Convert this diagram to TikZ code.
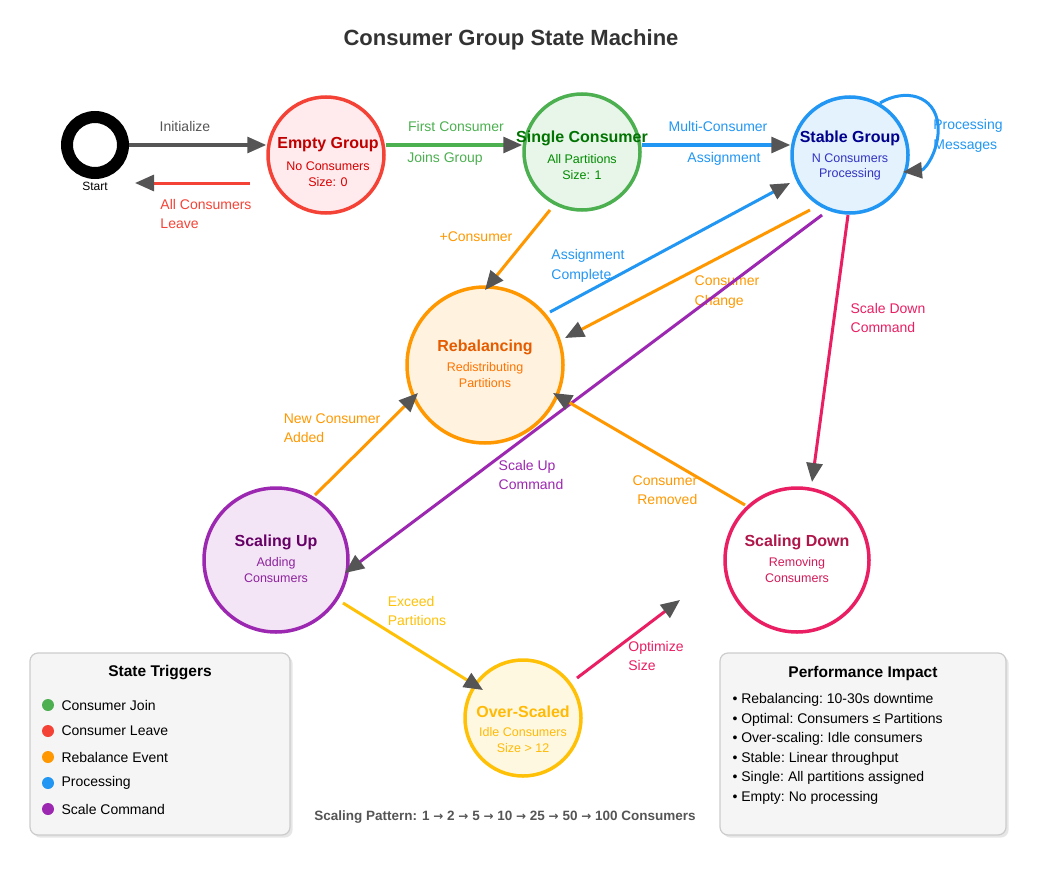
\documentclass[tikz,border=0pt]{standalone}
\usepackage{fontspec}
\setmainfont{Liberation Sans}
\newfontfamily\arrfont{DejaVu Sans}
\usetikzlibrary{arrows.meta,shadows}
\definecolor{cred}{HTML}{F44336}\definecolor{cgreen}{HTML}{4CAF50}\definecolor{cblue}{HTML}{2196F3}
\definecolor{corange}{HTML}{FF9800}\definecolor{cpurple}{HTML}{9C27B0}\definecolor{cpink}{HTML}{E91E63}
\definecolor{camber}{HTML}{FFC107}\definecolor{agray}{HTML}{555555}
\definecolor{fred}{HTML}{FFEBEE}\definecolor{fgreen}{HTML}{E8F5E9}\definecolor{fblue}{HTML}{E3F2FD}
\definecolor{forange}{HTML}{FFF3E0}\definecolor{fpurple}{HTML}{F3E5F5}\definecolor{famber}{HTML}{FFF8E1}
\newcommand{\ra}{{\arrfont\fontsize{12}{14}\selectfont →}}
\begin{document}
\begin{tikzpicture}[x=1pt,y=-1pt,
  st/.style={circle,line width=3.5pt,minimum size=#1,inner sep=0pt,align=center},
  ed/.style={line width=3pt,-{Triangle[length=19pt,width=16pt,color=agray]}},
  lb/.style={font=\fontsize{14}{19.5}\selectfont,align=left},
  tt/.style={font=\fontsize{16}{19}\selectfont\bfseries},
  sb/.style={font=\fontsize{12.5}{15.5}\selectfont}]
\useasboundingbox (0,0) rectangle (1049,872);
\node[font=\fontsize{22}{26}\selectfont\bfseries,text=black!80] (title) at (511,40) {Consumer Group State Machine};
% states
\node[circle,draw=black,line width=12pt,minimum size=56pt] (start) at (95,145) {};
\node[font=\fontsize{12}{14}\selectfont] (startl) at (95,186) {Start};
\node[st=116pt,draw=cred,fill=fred] (empty) at (326,155) {};
\node[tt,text=red!75!black] at (328,145) {Empty Group};
\node[sb,text=red!85!black,align=center] at (328,174) {No Consumers\\Size: 0};
\node[st=116pt,draw=cgreen,fill=fgreen] (single) at (582,152) {};
\node[tt,text=green!45!black] at (582,138) {Single Consumer};
\node[sb,text=green!55!black,align=center] at (582,167) {All Partitions\\Size: 1};
\node[st=116pt,draw=cblue,fill=fblue] (stable) at (850,155) {};
\node[tt,text=blue!55!black] at (850,138) {Stable Group};
\node[sb,text=blue!70!black!80,align=center] at (850,167) {N Consumers\\Processing};
\node[st=156pt,draw=corange,fill=forange] (rebal) at (485,365) {};
\node[tt,text=orange!80!red!90!black] at (485,347) {Rebalancing};
\node[sb,text=orange!90!red,align=center] at (485,375) {Redistributing\\Partitions};
\node[st=144pt,draw=cpurple,fill=fpurple] (up) at (276,560) {};
\node[tt,text=violet!80!black] at (276,542) {Scaling Up};
\node[sb,text=cpurple!90!black,align=center] at (276,570) {Adding\\Consumers};
\node[st=144pt,draw=cpink,fill=white] (down) at (797,560) {};
\node[tt,text=cpink!75!black] at (797,542) {Scaling Down};
\node[sb,text=cpink!90!black,align=center] at (797,570) {Removing\\Consumers};
\node[st=116pt,draw=camber,fill=famber] (over) at (523,718) {};
\node[tt,text=camber!90!orange] at (523,712) {Over-Scaled};
\node[sb,text=camber!90!orange,align=center] at (523,740) {Idle Consumers\\Size > 12};
% edges
\draw[ed,agray] (start.east) -- (empty.west|-start.east);
\node[lb,text=agray] at (185,126) {Initialize};
\coordinate (e1) at (250,183); \coordinate (e2) at (135,183);
\draw[ed,cred] (e1) -- (e2);
\node[lb,text=cred] at (206,214) {All Consumers\\Leave};
\draw[ed,cgreen] (empty.east|-0,145) -- (single.west|-0,145);
\node[lb,text=cgreen] at (456,126) {First Consumer};
\node[lb,text=cgreen] at (445,159) {Joins Group};
\draw[ed,cblue] (single.east|-0,145) -- (stable.west|-0,145);
\node[lb,text=cblue] at (718,126) {Multi-Consumer};
\node[lb,text=cblue] at (724,159) {Assignment};
\draw[line width=3pt,cblue,-{Triangle[length=19pt,width=16pt,color=agray]}] (880,103) .. controls (905,88) and (935,95) .. (938,125) .. controls (940,150) and (925,170) .. (903,172);
\node[lb,text=cblue] at (968,136) {Processing\\Messages};
\draw[ed,corange] (550,210) -- (485,290);
\node[lb,text=corange] at (476,237) {+Consumer};
\draw[ed,cblue] (550,312) -- (790,183);
\node[lb,text=cblue] at (588,266) {Assignment\\Complete};
\draw[ed,corange] (810,210) -- (565,338);
\node[lb,text=corange] at (727,292) {Consumer\\Change};
\draw[ed,cpurple] (822,215) -- (345,573);
\node[lb,text=cpurple] at (531,475) {Scale Up\\Command};
\draw[ed,cpink] (848,215) -- (812,482);
\node[lb,text=cpink] at (888,318) {Scale Down\\Command};
\draw[ed,corange] (315,495) -- (418,393);
\node[lb,text=corange] at (332,428) {New Consumer\\Added};
\draw[ed,corange] (745,505) -- (553,393);
\node[lb,text=corange,align=right] at (665,490) {Consumer\\Removed};
\draw[ed,camber] (343,603) -- (483,690);
\node[lb,text=camber] at (417,611) {Exceed\\Partitions};
\coordinate (opt) at (680,600);
\draw[ed,cpink] (577,678) -- (opt);
\node[lb,text=cpink] at (656,656) {Optimize\\Size};
% legends
\node[draw=black!20,line width=1.2pt,fill=black!4,rounded corners=8pt,minimum width=260pt,minimum height=182pt,drop shadow={opacity=0.2}] (leg1) at (160,744) {};
\node[font=\fontsize{15.5}{18}\selectfont\bfseries] at (160,673) {State Triggers};
\foreach \c/\t [count=\i] in {cgreen/Consumer Join,cred/Consumer Leave,corange/Rebalance Event,cblue/Processing,cpurple/Scale Command}{
  \fill[\c] (48,679+26*\i) circle (6pt);
  \node[lb,anchor=west] at (58,679+26*\i) {\t};}
\node[draw=black!20,line width=1.2pt,fill=black!4,rounded corners=8pt,minimum width=286pt,minimum height=182pt,drop shadow={opacity=0.2}] (leg2) at (863,744) {};
\node[font=\fontsize{15.5}{18}\selectfont\bfseries] at (863,673) {Performance Impact};
\foreach \t [count=\i] in {Rebalancing:~10-30s downtime,Optimal:~Consumers ≤ Partitions,Over-scaling:~Idle consumers,Stable:~Linear throughput,Single:~All partitions assigned,Empty:~No processing}{
  \node[lb,anchor=west] at (729,680.5+19.5*\i) {• \t};}
\node[font=\fontsize{13.5}{15}\selectfont\bfseries,text=agray] (pat) at (505,817) {Scaling Pattern: 1 \ra{} 2 \ra{} 5 \ra{} 10 \ra{} 25 \ra{} 50 \ra{} 100 Consumers};
\end{tikzpicture}
\end{document}
